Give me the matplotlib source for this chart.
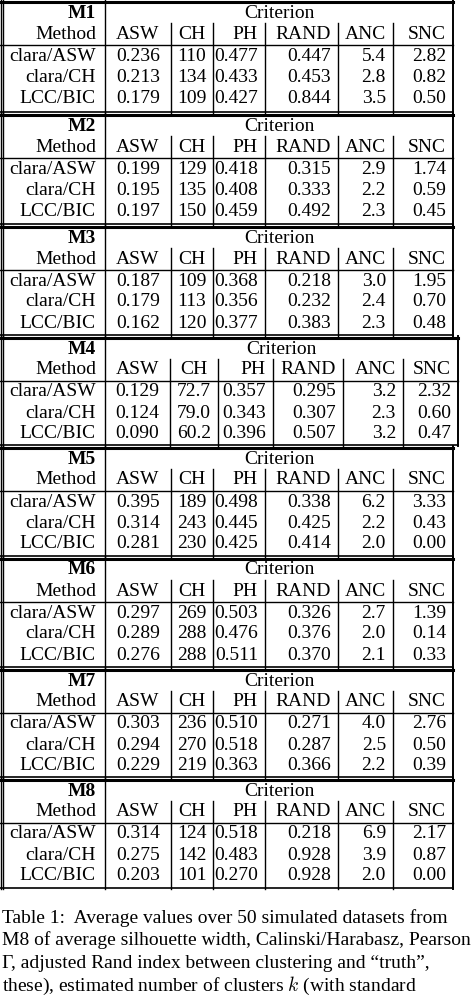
import matplotlib
matplotlib.use("Agg")
import matplotlib.pyplot as plt

models = ["M1", "M2", "M3", "M4", "M5", "M6", "M7", "M8"]
methods = ["clara/ASW", "clara/CH", "LCC/BIC"]
criteria = ["ASW", "CH", "PH", "RAND", "ANC", "SNC"]
values = {
    "M1": [["0.236", "110", "0.477", "0.447", "5.4", "2.82"],
           ["0.213", "134", "0.433", "0.453", "2.8", "0.82"],
           ["0.179", "109", "0.427", "0.844", "3.5", "0.50"]],
    "M2": [["0.199", "129", "0.418", "0.315", "2.9", "1.74"],
           ["0.195", "135", "0.408", "0.333", "2.2", "0.59"],
           ["0.197", "150", "0.459", "0.492", "2.3", "0.45"]],
    "M3": [["0.187", "109", "0.368", "0.218", "3.0", "1.95"],
           ["0.179", "113", "0.356", "0.232", "2.4", "0.70"],
           ["0.162", "120", "0.377", "0.383", "2.3", "0.48"]],
    "M4": [["0.129", "72.7", "0.357", "0.295", "3.2", "2.32"],
           ["0.124", "79.0", "0.343", "0.307", "2.3", "0.60"],
           ["0.090", "60.2", "0.396", "0.507", "3.2", "0.47"]],
    "M5": [["0.395", "189", "0.498", "0.338", "6.2", "3.33"],
           ["0.314", "243", "0.445", "0.425", "2.2", "0.43"],
           ["0.281", "230", "0.425", "0.414", "2.0", "0.00"]],
    "M6": [["0.297", "269", "0.503", "0.326", "2.7", "1.39"],
           ["0.289", "288", "0.476", "0.376", "2.0", "0.14"],
           ["0.276", "288", "0.511", "0.370", "2.1", "0.33"]],
    "M7": [["0.303", "236", "0.510", "0.271", "4.0", "2.76"],
           ["0.294", "270", "0.518", "0.287", "2.5", "0.50"],
           ["0.229", "219", "0.363", "0.366", "2.2", "0.39"]],
    "M8": [["0.314", "124", "0.518", "0.218", "6.9", "2.17"],
           ["0.275", "142", "0.483", "0.928", "3.9", "0.87"],
           ["0.203", "101", "0.270", "0.928", "2.0", "0.00"]],
}
caption = [
    "Table 1:  Average values over 50 simulated datasets from",
    "M8 of average silhouette width, Calinski/Harabasz, Pearson",
    "\u0393, adjusted Rand index between clustering and \u201ctruth\u201d,",
    "these), estimated number of clusters $k$ (with standard",
]

W, H = 474, 998
fig = plt.figure(figsize=(W / 100, H / 100), dpi=100)
ax = fig.add_axes([0, 0, 1, 1])
ax.set_xlim(0, W)
ax.set_ylim(H, 0)
ax.axis("off")
plt.rcParams["mathtext.fontset"] = "cm"
fam = ["Liberation Serif"]
fs = 14
tops = [0, 113, 225, 336, 446, 557, 668, 778]
bottom = 889
seps_std = [105, 171, 213, 265, 338, 393, 453]
seps_m4 = [105, 170, 218, 273, 343, 403, 458]
align = ["center", "center", "right", "right", "right", "right"]

for bi, m in enumerate(models):
    t = tops[bi]
    b = tops[bi + 1] if bi + 1 < len(tops) else bottom
    seps = seps_m4 if m == "M4" else seps_std
    right = seps[-1]
    lw = 1.0
    ax.plot([0, right], [t + 1.5, t + 1.5], color="black", lw=2.2)
    ax.plot([0, right], [b - 1.5, b - 1.5], color="black", lw=1.2)
    ax.plot([1, 1], [t, b], color="black", lw=1.0)
    ax.plot([3.5, 3.5], [t, b], color="black", lw=1.0)
    ax.plot([right, right], [t, b], color="black", lw=1.4)
    ax.plot([seps[0], seps[0]], [t, b], color="black", lw=lw)
    ax.plot([0, right], [t + 45, t + 45], color="black", lw=lw)
    for s in seps[1:-1]:
        ax.plot([s, s], [t + 23, b], color="black", lw=lw)
    ax.text(seps[0] - 9, t + 13, m, ha="right", va="center", fontsize=fs,
            family=fam, fontweight="bold")
    ax.text((seps[0] + right) / 2, t + 13, "Criterion", ha="center",
            va="center", fontsize=fs, family=fam)
    ax.text(seps[0] - 9, t + 34, "Method", ha="right", va="center",
            fontsize=fs, family=fam)
    for ci, c in enumerate(criteria):
        l, r = seps[ci], seps[ci + 1]
        x = (l + r) / 2 if align[ci] == "center" else r - 7
        ax.text(x, t + 34, c, ha=align[ci], va="center", fontsize=fs, family=fam)
        for ri in range(3):
            ax.text(x, t + 56 + 21 * ri, values[m][ri][ci], ha=align[ci],
                    va="center", fontsize=fs, family=fam)
    for ri, meth in enumerate(methods):
        ax.text(seps[0] - 9, t + 56 + 21 * ri, meth, ha="right", va="center",
                fontsize=fs, family=fam)

for i, line in enumerate(caption):
    ax.text(2, 918 + 22.5 * i, line, ha="left", va="center", fontsize=fs,
            family=fam)

fig.savefig("out.png", dpi=100)
